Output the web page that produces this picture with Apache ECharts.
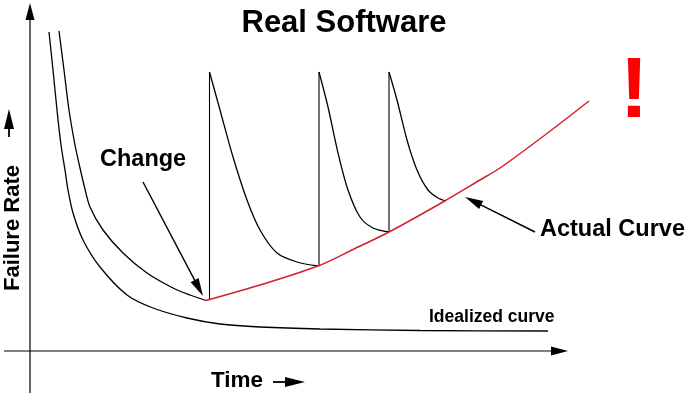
<!DOCTYPE html>
<html>
<head>
<meta charset="utf-8">
<script src="https://cdn.jsdelivr.net/npm/echarts@6/dist/echarts.min.js"></script>
<style>html,body{margin:0;padding:0;background:#fff}#c{width:696px;height:393px}</style>
</head>
<body>
<div id="c"></div>
<script>
// Data coordinates: t = time, r = failure rate (origin at the axes crossing)
const idealizedCurve = [[19,319],[23,281],[27,241],[31,206],[35,181],[38,161],[43,138],[53,111],[70,84],[97,56],[123,43],[157,33],[190,27],[230,24],[290,22],[390,20.5],[518,20]];
const earlyCurve = [[29,320],[34,281],[39,241],[45,206],[50,183],[54,166],[60,144],[73,121],[93,98],[117,78],[143,63],[160,56],[176,50.5]];
const actualCurve = [[176,50.5],[230,66],[288,85],[323,101.5],[359,119],[413,149],[450,171],[470,183],[515,216],[559,250]];
const spike1 = [[179.5,279],[190,241],[203,194],[217,151],[230,121],[247,98],[267,89],[288,85]];
const spike2 = [[289,279],[298,244],[308,198],[318,161],[330,134],[343,123],[359,119]];
const spike3 = [[359,279],[367,251],[377,211],[387,181],[398,161],[408,153],[416,150]];
const changeTimes = [179.5, 289, 359];
const changeBottoms = [51, 85, 119];
const changeTop = 279;
// arrows: [fromT, fromR, tipT, tipR]
const axisArrows = [[-26, 0, 538, 0], [0, -42, 0, 348]];
const labelArrows = [[113, 169, 173, 55], [505, 119, 435, 154]];
const axisTitleArrows = [[-21, 214, -21, 242], [243, -31, 275, -31]];

const font = "'Liberation Sans', Arial, Helvetica, sans-serif";
const chart = echarts.init(document.getElementById('c'), null, {renderer: 'canvas'});
const series = [];
function curve(data, color, width) {
  series.push({type: 'line', data: data, smooth: 0.3, symbol: 'none', clip: false,
    lineStyle: {color: color, width: width}, itemStyle: {color: color}, z: 3});
}
curve(idealizedCurve, '#000', 1.3);
curve(earlyCurve, '#000', 1.3);
curve(spike1, '#000', 1.3);
curve(spike2, '#000', 1.3);
curve(spike3, '#000', 1.3);
curve(actualCurve, '#d4202c', 1.5);
changeTimes.forEach(function (t, i) {
  series.push({type: 'line', data: [[t, changeBottoms[i]], [t, changeTop]], symbol: 'none', clip: false,
    lineStyle: {color: '#000', width: 1.1}, z: 2});
});
function arrowSeries(data, headLen, headWidth, lineWidth) {
  series.push({type: 'custom', coordinateSystem: 'cartesian2d', clip: false, z: 4,
    data: data,
    renderItem: function (params, api) {
      const p1 = api.coord([api.value(0), api.value(1)]);
      const p2 = api.coord([api.value(2), api.value(3)]);
      const dx = p2[0] - p1[0], dy = p2[1] - p1[1];
      const len = Math.sqrt(dx * dx + dy * dy);
      const ux = dx / len, uy = dy / len;
      const bx = p2[0] - ux * headLen, by = p2[1] - uy * headLen;
      const nx = -uy * headWidth / 2, ny = ux * headWidth / 2;
      return {type: 'group', children: [
        {type: 'line', shape: {x1: p1[0], y1: p1[1], x2: bx + ux * 2, y2: by + uy * 2},
          style: {stroke: '#000', lineWidth: lineWidth}},
        {type: 'polygon', shape: {points: [[p2[0], p2[1]], [bx + nx, by + ny], [bx - nx, by - ny]]},
          style: {fill: '#000'}}
      ]};
    }
  });
}
arrowSeries(axisArrows, 17, 9, 1.2);
arrowSeries(labelArrows, 18, 9, 1.4);
arrowSeries(axisTitleArrows, 20, 10, 1.8);

function txt(text, x, y, size, align, extra) {
  return Object.assign({type: 'text', x: x, y: y, z: 10,
    style: {text: text, font: 'bold ' + size + 'px ' + font, fill: '#000',
      textAlign: align || 'left', textVerticalAlign: 'middle'}}, extra || {});
}
const graphics = [
  txt('Real Software', 344, 23, 31, 'center'),
  txt('Change', 100, 160, 23.5),
  txt('Actual Curve', 540, 230, 23.5),
  txt('Idealized curve', 429, 317, 17.5),
  txt('Time', 211, 381, 22.5),
  txt('Failure Rate', 13, 228, 22, 'center', {rotation: Math.PI / 2}),
  {type: 'text', x: 634, y: 93, z: 10,
    style: {text: '!', font: 'bold 86px ' + font, fill: '#ff0000', textAlign: 'center', textVerticalAlign: 'middle'}}
];

chart.setOption({
  animation: false,
  backgroundColor: '#fff',
  grid: {left: 4, right: 4, top: 3, bottom: 0, containLabel: false},
  xAxis: {type: 'value', min: -26, max: 662, axisLine: {show: false},
    axisTick: {show: false}, axisLabel: {show: false}, splitLine: {show: false}},
  yAxis: {type: 'value', min: -42, max: 348, axisLine: {show: false},
    axisTick: {show: false}, axisLabel: {show: false}, splitLine: {show: false}},
  series: series,
  graphic: graphics
});
</script>
</body>
</html>
